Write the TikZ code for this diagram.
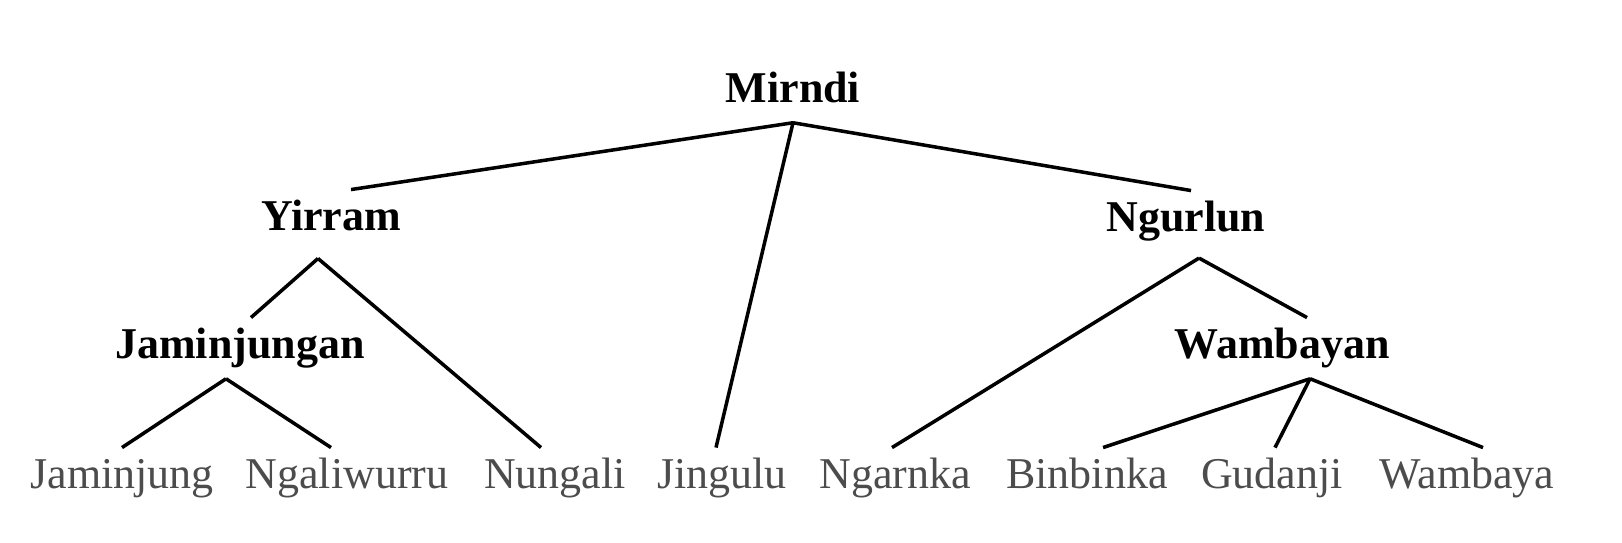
\documentclass[tikz,border=0pt]{standalone}
\usepackage{fontspec}
\setmainfont{Liberation Serif}
\definecolor{leafGray}{gray}{0.3}

\begin{document}
\begin{tikzpicture}
[x=0.01cm,y=-0.01cm,
  lineDecorate/.style={-,line width=1pt},%
  nodeDecorate/.style={inner xsep=2pt,inner ysep=3pt,text height=8.3pt,text depth=2.7pt,
    anchor=base,font=\fontsize{12.5}{15}\selectfont},
  groupDecorate/.style={nodeDecorate,font=\fontsize{12.5}{15}\selectfont\bfseries},
  leafDecorate/.style={nodeDecorate,text=leafGray}]
\useasboundingbox (0,0) rectangle (1622,542);
%% groups
\foreach \nodename/\x/\y/\d in {
  Mirndi/793/102/2.7,
  Yirram/331/230/4.9,
  Ngurlun/1186/231/4.5,
  Jaminjungan/240/358/2.7,
  Wambayan/1282/358/2.7}
{
  \node (\nodename) at (\x,\y) [groupDecorate,text depth=\d pt] {\nodename};
}
%% languages
\foreach \nodename/\x in {
  Jaminjung/122, Ngaliwurru/347, Nungali/555, Jingulu/722,
  Ngarnka/895, Binbinka/1087, Gudanji/1272, Wambaya/1467}
{
  \node (\nodename) at (\x,488) [leafDecorate] {\nodename};
}
%% branches
\path
\foreach \startnode/\sx/\endnode/\ex in {
  Mirndi/0/Yirram/0.2, Mirndi/0/Jingulu/-0.06, Mirndi/0/Ngurlun/0.05,
  Yirram/-0.13/Jaminjungan/0.11, Yirram/-0.13/Nungali/-0.14,
  Jaminjungan/-0.14/Jaminjung/0, Jaminjungan/-0.14/Ngaliwurru/-0.16,
  Ngurlun/0.13/Ngarnka/-0.03, Ngurlun/0.13/Wambayan/0.25,
  Wambayan/0.28/Binbinka/0.16, Wambayan/0.28/Gudanji/0.03,
  Wambayan/0.28/Wambaya/0.16}
{
  ([xshift=\sx cm]\startnode.south) edge[lineDecorate] ([xshift=\ex cm]\endnode.north)
};
\end{tikzpicture}
\end{document}
